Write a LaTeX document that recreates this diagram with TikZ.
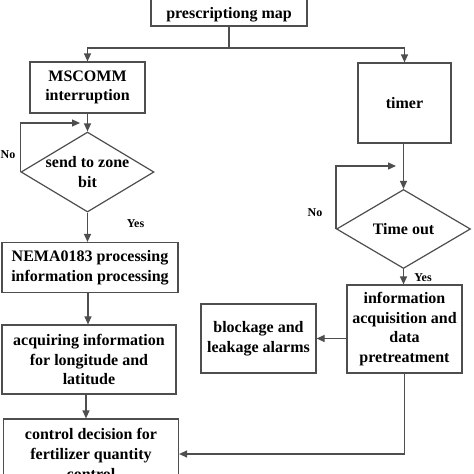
\documentclass[tikz,border=0pt]{standalone}
\usepackage{fontspec}
\setmainfont{Liberation Serif}
\usetikzlibrary{arrows.meta,shapes.geometric}
\definecolor{lc}{RGB}{78,78,78}
\begin{document}
\begin{tikzpicture}[x=1pt,y=-1pt,
  box/.style={draw=lc, line width=1.2pt, align=center, inner sep=0pt,
    font=\bfseries\fontsize{16}{19.6}\selectfont},
  dia/.style={draw=lc, line width=1.2pt, diamond, inner sep=0pt},
  dtext/.style={align=center, inner sep=0pt, font=\bfseries\fontsize{16}{19.6}\selectfont},
  lab/.style={inner sep=0pt, font=\bfseries\fontsize{12}{14}\selectfont},
  ln/.style={draw=lc, line width=1.2pt},
  arr/.style={ln, -{Triangle[length=8pt,width=7pt]}}]
\useasboundingbox[fill=white] (0,0) rectangle (474,474);
\begin{scope}
\clip (0,0) rectangle (474,474);
% nodes
\node[box, minimum width=156pt, minimum height=42pt] (top) at (229,5) {information for\\prescriptiong map};
\node[box, minimum width=115pt, minimum height=51pt] (ms) at (87.5,87.5) {MSCOMM\\interruption};
\node[dia, minimum width=133pt, minimum height=80pt] (d1) at (87.5,172) {};
\node[dtext] (d1t) at (d1.center) {send to zone\\bit};
\node[box, minimum width=176pt, minimum height=50pt] (nema) at (90,267.5) {NEMA0183 processing\\information processing};
\node[box, minimum width=174pt, minimum height=69pt] (acq) at (89,359.5) {acquiring information\\for longitude and\\latitude};
\node[box, minimum width=175pt, minimum height=70pt] (ctl) at (91,454) {control decision for\\fertilizer quantity\\control};
\node[box, minimum width=93pt, minimum height=80pt] (tm) at (404.5,103) {timer};
\node[dia, minimum width=134pt, minimum height=79pt] (d2) at (403.5,229) {};
\node[dtext] (d2t) at (d2.center) {Time out};
\node[box, minimum width=115pt, minimum height=88pt] (info) at (404.5,329) {information\\acquisition and\\data\\pretreatment};
\node[box, minimum width=115pt, minimum height=69pt] (blk) at (258.5,338.5) {blockage and\\leakage alarms};
% labels
\node[lab] (no1) at (8,155) {No};
\node[lab] (yes1) at (135.5,224) {Yes};
\node[lab] (no2) at (315,213) {No};
\node[lab] (yes2) at (423,278) {Yes};
% coordinates
\coordinate (j) at (229,48);
\coordinate (l1) at (80,123);
\coordinate (l2) at (396,166);
\coordinate (b) at (404.5,454);
% connectors
\draw[ln] (top.south) -- (j);
\draw[arr] (j) -| (ms.north);
\draw[arr] (j) -| (tm.north);
\draw[arr] (ms.south) -- (d1.north);
\draw[arr] (d1.west) |- (l1);
\draw[arr] (d1.south) -- (d1.south |- nema.north);
\draw[arr] (nema.south -| 88,0) -- (acq.north -| 88,0);
\draw[arr] (acq.south -| 86,0) -- (ctl.north -| 86,0);
\draw[arr] (tm.south -| d2.north) -- (d2.north);
\draw[arr] (d2.west) |- (l2);
\draw[arr] (d2.south) -- (d2.south |- info.north);
\draw[arr] (info.west |- blk.east) -- (blk.east);
\draw[ln] (info.south) -- (b);
\draw[arr] (b) -- (ctl.east);
\end{scope}
\end{tikzpicture}
\end{document}
